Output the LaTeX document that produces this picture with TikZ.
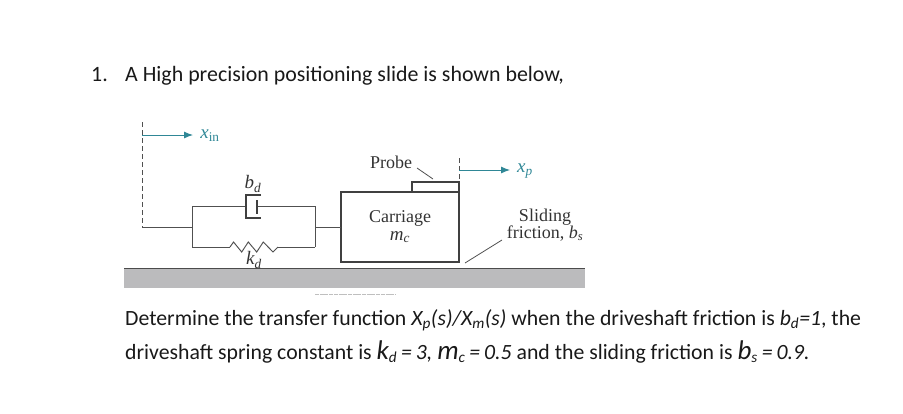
\documentclass[tikz,border=0pt]{standalone}
\usepackage{fontspec}
\setmainfont{Carlito}
\newfontfamily\figfont{Liberation Serif}
\usetikzlibrary{arrows.meta}
\definecolor{teal1}{HTML}{2F8796}
\definecolor{lin}{HTML}{505050}
\definecolor{grnd}{HTML}{BBBBBD}
\newcommand{\bigv}[1]{{\fontsize{27}{16}\selectfont #1}}
\newcommand{\eqs}{\kern0.18em=\kern0.18em}
\tikzset{
  wire/.style={draw=lin,line width=0.95pt},
  dashwire/.style={draw=lin,line width=1pt,dash pattern=on 5pt off 3pt},
  heavy/.style={draw=lin!80!black,line width=1.4pt},
  thinl/.style={draw=lin,line width=0.8pt},
  motion/.style={draw=teal1,line width=0.9pt,-{Latex[length=9pt,width=7pt]}},
  figl/.style={font=\figfont\fontsize{18}{17}\selectfont,text=black!80,inner sep=0pt},
  figm/.style={font=\figfont\itshape\fontsize{19}{18}\selectfont,inner sep=0pt,text=black!80},
  tealm/.style={figm,text=teal1},
  para/.style={anchor=base west,inner sep=0pt,font=\fontsize{21.9}{24}\selectfont,text=black!90},
  para2/.style={para,font=\fontsize{21.75}{24}\selectfont},
}
\begin{document}
\begin{tikzpicture}[x=1pt,y=-1pt]
\useasboundingbox (0,0) rectangle (903,413);
% text
\node[para] (q1) at (91,81) {1.};
\node[para] (q2) at (125,81) {A High precision positioning slide is shown below,};
\node[para2] (d1) at (125,325) {Determine the transfer function \textit{X\textsubscript{p}(s)/X\textsubscript{m}(s)} when the driveshaft friction is \textit{b\textsubscript{d}=1}, the};
\node[para2] (d2) at (125,359) {driveshaft spring constant is \textit{\bigv{k}\textsubscript{d}\eqs3, \bigv{m}\textsubscript{c}\eqs0.5} and the sliding friction is \textit{\bigv{b}\textsubscript{s}\eqs0.9.}};
% ground
\fill[grnd] (124,269) rectangle (585,288);
\draw[draw=black!70,line width=1.1pt] (124,268.5) -- (585,268.5);
\draw[draw=black!25,line width=1.2pt,dash pattern=on 4pt off 0.7pt] (315,294.5) -- (395,294.5);
% input
\coordinate (inT) at (142,122);
\coordinate (inB) at (142,227);
\coordinate (inA) at (142,135);
\coordinate (inH) at (193,135);
\draw[dashwire] (inT) -- (inB);
\draw[motion] (inA) -- (inH);
\node[tealm] (xin) at (210,136) {x\textsubscript{\upshape in}};
% parallel
\coordinate (pl) at (192,227);
\coordinate (pr) at (315,227);
\coordinate (tl) at (192,206);
\coordinate (tr) at (315,206);
\coordinate (bl) at (192,247);
\coordinate (br) at (315,247);
\coordinate (dl) at (246,206);
\coordinate (dr) at (257,206);
\coordinate (sl) at (230,247);
\coordinate (sr) at (278,247);
\draw[wire] (inB) -- (pl);
\draw[wire] (tl) -- (bl);
\draw[wire] (tr) -- (br);
\draw[wire] (tl) -- (dl);
\draw[wire] (dr) -- (tr);
\draw[wire] (bl) -- (sl);
\draw[wire] (sr) -- (br);
\draw[wire] (sl) -- (233.5,242) -- (241.7,252) -- (248.3,242) -- (256.7,252) -- (263.3,242) -- (273,252) -- (sr);
\draw[heavy] (261,195) -- (246,195) -- (246,218) -- (261,218);
\draw[heavy] (257,200) -- (257,214);
\node[figm] (bd) at (253,184) {b\textsubscript{d}};
\node[figm] (kd) at (254,260) {k\textsubscript{d}};
% carriage
\node[draw=lin!80!black,line width=1.3pt,minimum width=118pt,minimum height=70pt,inner sep=0pt,outer sep=0pt] (car) at (400,227) {};
\draw[wire] (pr) -- (car.west);
\draw[draw=lin!80!black,line width=1.3pt] (412,192) -- (412,182) -- (459,182) -- (459,192);
\node[figl] (cart) at (400,218) {Carriage};
\node[figm] (mc) at (400,237) {m\textsubscript{c}};
% probe
\node[figl] (prob) at (391,162) {Probe};
\coordinate (pa) at (417,168);
\coordinate (pb) at (433,179);
\draw[thinl] (pa) -- (pb);
\coordinate (oT) at (459,158);
\coordinate (oB) at (459,182);
\coordinate (oA) at (459,170);
\coordinate (oH) at (510,170);
\draw[dashwire] (oT) -- (oB);
\draw[motion] (oA) -- (oH);
\node[tealm] (xp) at (525,171) {x\textsubscript{p}};
% friction
\node[figl,align=center] (slid) at (545,225) {Sliding\\friction, \textit{b\textsubscript{s}}};
\coordinate (fa) at (465,263);
\coordinate (fb) at (502,240);
\draw[thinl] (fa) -- (fb);
\end{tikzpicture}
\end{document}
